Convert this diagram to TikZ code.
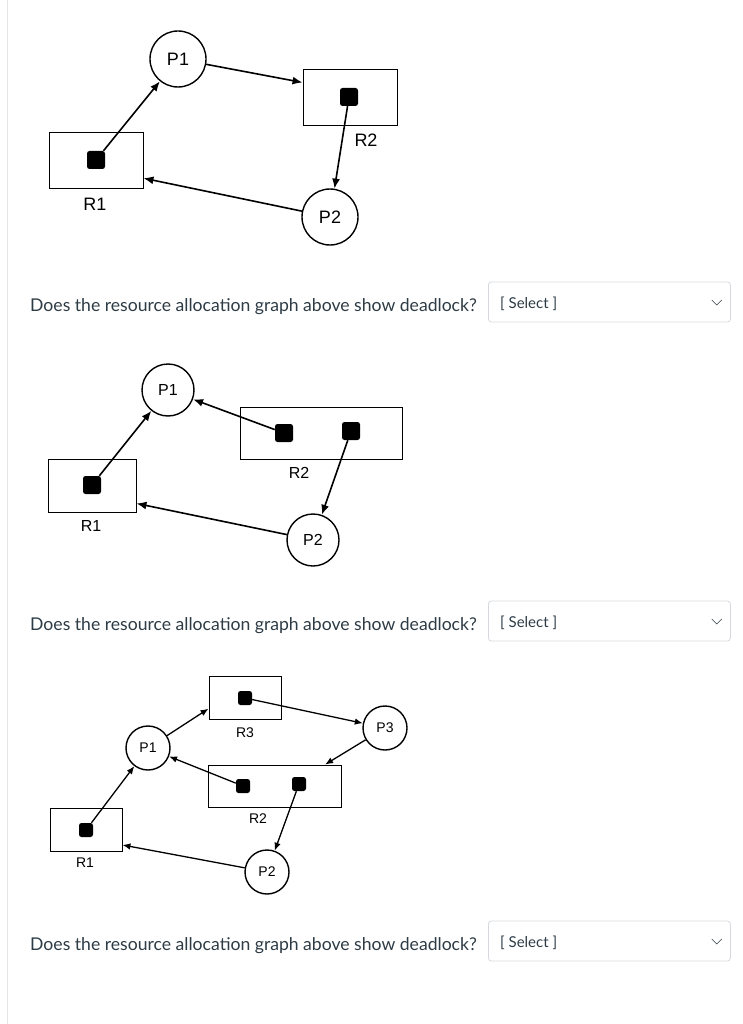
\documentclass[tikz,border=0pt]{standalone}
\usepackage{fontspec}
\setmainfont{Liberation Sans}
\newfontfamily\latofont{Lato}
\usetikzlibrary{arrows.meta,calc}
\definecolor{qtext}{HTML}{2D3B45}
\definecolor{selline}{HTML}{D5D9DD}
\definecolor{rulegray}{HTML}{E4E4E4}
\tikzset{>={Latex[length=10pt,width=8pt]},
  proc/.style={draw,circle,line width=1.4pt,inner sep=0pt},
  res/.style={draw,rectangle,line width=0.9pt,inner sep=0pt},
  inst/.style={fill=black,rounded corners=2.5pt,inner sep=0pt},
  edge/.style={->,line width=1.6pt},
  thinedge/.style={-{Latex[length=8pt,width=6.5pt]},line width=1.3pt},
  bigfont/.style={font=\fontsize{18}{20}\selectfont},
  midfont/.style={font=\fontsize{16}{18}\selectfont},
  smallfont/.style={font=\fontsize{14}{16}\selectfont},
  question/.style={anchor=west,inner sep=0pt,text=qtext,font=\latofont\fontsize{17.6}{20}\selectfont},
  selbox/.style={draw=selline,line width=0.8pt,rounded corners=3pt,minimum width=242,minimum height=40,anchor=west,inner sep=0pt},
  seltext/.style={anchor=west,inner sep=0pt,text=qtext,font=\latofont\fontsize{15}{18}\selectfont},
  chev/.style={draw=qtext,line width=0.6pt}
}
\begin{document}
\begin{tikzpicture}[x=1pt,y=-1pt]
\useasboundingbox (0,0) rectangle (742,1024);
\draw[rulegray,line width=1pt] (7,0) -- (7,1024);

% first graph
\node[res,minimum width=94,minimum height=56] (aR1) at (96,160) {};
\node[res,minimum width=94,minimum height=56] (aR2) at (350,97) {};
\node[inst,minimum size=18] (aR1d) at (96,160) {};
\node[inst,minimum size=18] (aR2d) at (349,97) {};
\node[proc,minimum size=56,bigfont] (aP1) at (178,59) {P1};
\node[proc,minimum size=56,bigfont] (aP2) at (330,217) {P2};
\node[bigfont] (aR1l) at (95,204) {R1};
\node[bigfont] (aR2l) at (366,140) {R2};
\draw[edge] (aR1d) -- (aP1);
\draw[edge] (aP1) -- (aR2.163);
\draw[edge] (aR2d) -- (aP2);
\draw[edge] (aP2) -- (aR1.-21);

\node[question] (q1) at (30,307) {Does the resource allocation graph above show deadlock?};
\node[selbox] (s1) at (488,302) {};
\node[seltext] (s1t) at ($(s1.west)+(12,2)$) {[ Select ]};
\draw[chev] ($(s1.east)+(-19,-2)$) -- ++(5,5) -- ++(5,-5);

% second graph
\node[res,minimum width=88,minimum height=53] (bR1) at (92,485.5) {};
\node[res,minimum width=162,minimum height=52] (bR2) at (321,433) {};
\node[inst,minimum size=18] (bR1d) at (92,485) {};
\node[inst,minimum size=18] (bR2a) at (284,433) {};
\node[inst,minimum size=18] (bR2b) at (351,431) {};
\node[proc,minimum size=52,midfont] (bP1) at (168,390) {P1};
\node[proc,minimum size=52,midfont] (bP2) at (313,540) {P2};
\node[midfont] (bR1l) at (91,526) {R1};
\node[midfont] (bR2l) at (299,473) {R2};
\draw[edge] (bR1d) -- (bP1);
\draw[edge] (bR2a) -- (bP1);
\draw[edge] (bR2b) -- (bP2);
\draw[edge] (bP2) -- (bR1.-22);

\node[question] (q2) at (30,626) {Does the resource allocation graph above show deadlock?};
\node[selbox] (s2) at (488,621) {};
\node[seltext] (s2t) at ($(s2.west)+(12,2)$) {[ Select ]};
\draw[chev] ($(s2.east)+(-19,-2)$) -- ++(5,5) -- ++(5,-5);

% third graph
\node[res,minimum width=72,minimum height=43] (cR1) at (86,829.5) {};
\node[res,minimum width=133,minimum height=42] (cR2) at (274.5,786) {};
\node[res,minimum width=72,minimum height=43] (cR3) at (245,697.5) {};
\node[inst,minimum size=14] (cR1d) at (86,830) {};
\node[inst,minimum size=14] (cR2a) at (243,786) {};
\node[inst,minimum size=14] (cR2b) at (299,784) {};
\node[inst,minimum size=14] (cR3d) at (245,698) {};
\node[proc,minimum size=44,smallfont] (cP1) at (148,748) {P1};
\node[proc,minimum size=44,smallfont] (cP2) at (267,872) {P2};
\node[proc,minimum size=44,smallfont] (cP3) at (385,728) {P3};
\node[smallfont] (cR1l) at (85,863) {R1};
\node[smallfont] (cR2l) at (258,819) {R2};
\node[smallfont] (cR3l) at (245,733) {R3};
\draw[thinedge] (cR1d) -- (cP1);
\draw[thinedge] (cP1) -- (cR3.197);
\draw[thinedge] (cR3d) -- (cP3);
\draw[thinedge] (cP3) -- (cR2.23);
\draw[thinedge] (cR2a) -- (cP1);
\draw[thinedge] (cR2b) -- (cP2);
\draw[thinedge] (cP2) -- (cR1.-23);

\node[question] (q3) at (30,946) {Does the resource allocation graph above show deadlock?};
\node[selbox] (s3) at (488,941) {};
\node[seltext] (s3t) at ($(s3.west)+(12,2)$) {[ Select ]};
\draw[chev] ($(s3.east)+(-19,-2)$) -- ++(5,5) -- ++(5,-5);
\end{tikzpicture}
\end{document}
